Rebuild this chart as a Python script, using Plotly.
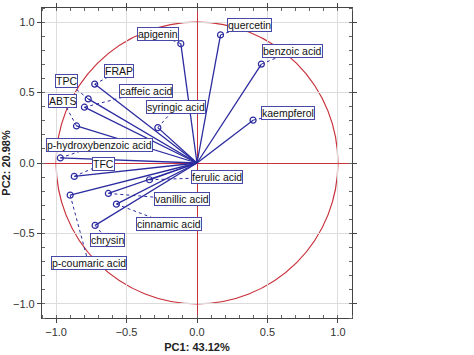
import plotly.graph_objects as go

variables = ["apigenin", "quercetin", "benzoic acid", "kaempferol", "FRAP", "TPC",
             "caffeic acid", "ABTS", "syringic acid", "p-hydroxybenzoic acid", "TFC",
             "ferulic acid", "vanillic acid", "cinnamic acid", "chrysin", "p-coumaric acid"]
pc1 = [-0.115, 0.167, 0.457, 0.398, -0.726, -0.772, -0.799, -0.855, -0.278, -0.970,
       -0.871, -0.337, -0.629, -0.572, -0.723, -0.900]
pc2 = [0.847, 0.909, 0.702, 0.304, 0.560, 0.455, 0.396, 0.263, 0.251, 0.036,
       -0.095, -0.119, -0.216, -0.292, -0.443, -0.228]

# label box centres (layout positions for annotations)
label_x = [-0.278, 0.375, 0.676, 0.648, -0.556, -0.926, -0.363, -0.952, -0.151, -0.690,
           -0.662, 0.144, -0.108, -0.196, -0.634, -0.770]
label_y = [0.913, 0.982, 0.792, 0.358, 0.650, 0.579, 0.508, 0.443, 0.394, 0.130,
           -0.005, -0.102, -0.258, -0.434, -0.548, -0.710]

x_ticks = [-1.0, -0.5, 0.0, 0.5, 1.0]
y_ticks = [-1.0, -0.5, 0.0, 0.5, 1.0]

BLUE = "#2b2ba0"
BOX = "#4848a8"
RED = "#c8323c"

fig = go.Figure()

# leader lines (dashed) from points to labels
for px, py, lx, ly in zip(pc1, pc2, label_x, label_y):
    fig.add_trace(go.Scatter(x=[px, lx], y=[py, ly], mode="lines",
                             line=dict(color=BLUE, width=1, dash="dot"),
                             hoverinfo="skip", showlegend=False))

# vectors
for px, py in zip(pc1, pc2):
    fig.add_trace(go.Scatter(x=[0, px], y=[0, py], mode="lines",
                             line=dict(color=BLUE, width=1.3),
                             hoverinfo="skip", showlegend=False))

fig.add_trace(go.Scatter(x=pc1, y=pc2, mode="markers", text=variables,
                         marker=dict(symbol="circle-open", size=6, color=BLUE,
                                     line=dict(width=1.2, color=BLUE)),
                         showlegend=False))

for name, lx, ly in zip(variables, label_x, label_y):
    fig.add_annotation(x=lx, y=ly, text=name, showarrow=False,
                       font=dict(family="Liberation Sans, Arial", size=10.5, color="#111111"),
                       bgcolor="white", bordercolor=BOX, borderwidth=1, borderpad=0)

fig.add_shape(type="circle", x0=-1, y0=-1, x1=1, y1=1, xref="x", yref="y",
              line=dict(color=RED, width=1.2), layer="below")

axis_common = dict(range=[-1.1, 1.1], showgrid=True, gridcolor="#dcdcdc", gridwidth=1,
                   zeroline=True, zerolinecolor=RED, zerolinewidth=1.2,
                   showline=True, linecolor="#444444", linewidth=1.2, mirror="ticks",
                   ticks="outside", ticklen=4, tickcolor="#444444",
                   minor=dict(ticks="inside", ticklen=3, tickcolor="#666666", dtick=0.1, showgrid=False),
                   tickformat=".1f", automargin=False,
                   tickfont=dict(family="Liberation Sans, Arial", size=11, color="#333333"))

fig.update_xaxes(**axis_common, tickvals=x_ticks,
                 title=dict(text="<b>PC1: 43.12%</b>", standoff=6,
                            font=dict(family="Liberation Sans, Arial", size=11, color="#222222")))
fig.update_yaxes(**axis_common, tickvals=y_ticks,
                 title=dict(text="<b>PC2: 20.98%</b>", standoff=0,
                            font=dict(family="Liberation Sans, Arial", size=11, color="#222222")))

fig.update_layout(width=474, height=355, margin=dict(l=42, r=122, t=8, b=37),
                  plot_bgcolor="white", paper_bgcolor="white")

fig.write_html("out.html", config={"displayModeBar": False},
               post_script="document.body.style.margin='0';document.body.style.overflow='hidden';")
